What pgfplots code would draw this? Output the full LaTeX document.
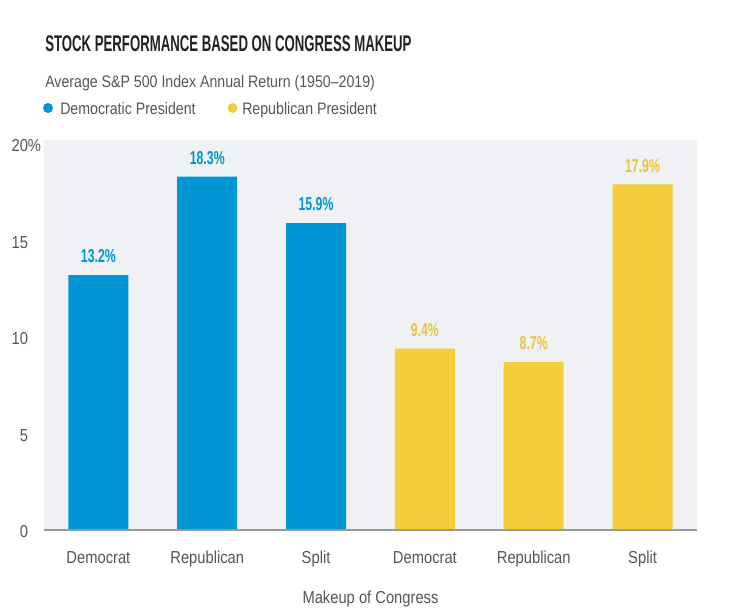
\documentclass[border=0pt]{standalone}
\usepackage{fontspec}
\setmainfont{Liberation Sans}[FakeStretch=0.85]
\newfontfamily\titlefont{Liberation Sans Bold}[FakeStretch=0.582]
\newfontfamily\valfont{Liberation Sans Bold}[FakeStretch=0.66]
\usepackage{pgfplots}
\pgfplotsset{compat=1.18}
\definecolor{dblue}{HTML}{0096D6}
\definecolor{ryellow}{HTML}{F5CD3A}
\definecolor{ylabel}{HTML}{E8C440}
\definecolor{bgc}{HTML}{EFF1F4}
\definecolor{txt}{HTML}{555555}
\definecolor{ttl}{HTML}{222222}
\begin{document}
\begin{tikzpicture}
\path[use as bounding box] (-33pt,-63.75pt) rectangle (522pt,397.5pt);
\begin{axis}[
  at={(0,0)}, anchor=south west,
  scale only axis,
  width=489.75pt, height=292.5pt,
  xmin=-0.5, xmax=5.5, ymin=0, ymax=20.2,
  axis background/.style={fill=bgc},
  axis line style={draw=none},
  axis x line*=bottom,
  axis y line*=left,
  xtick={0,1,2,3,4,5},
  xticklabels={Democrat,Republican,Split,Democrat,Republican,Split},
  ytick={0,5,10,15,20},
  yticklabels={0,5,10,15,20\rlap{\%}},
  major tick length=0pt,
  tick style={draw=none},
  /pgf/number format/assume math mode=true,
  ticklabel style={font=\fontsize{13}{15}\selectfont, text=txt},
  xticklabel style={yshift=-12.5pt},
  yticklabel style={xshift=-8.5pt, yshift=-1.5pt},
  xlabel={Makeup of Congress},
  xlabel style={at={(axis description cs:0.5,0)}, anchor=center, yshift=-52pt, font=\fontsize{13}{15}\selectfont, text=txt},
  ybar, bar width=45pt, bar shift=0pt,
  nodes near coords={\pgfmathprintnumber[fixed,precision=1,fixed zerofill]{\pgfplotspointmeta}\%},
  every node near coord/.append style={font=\valfont\fontsize{14}{16}\selectfont, yshift=5.5pt},
  clip=false,
]
\addplot[fill=dblue, draw=none, every node near coord/.append style={text=dblue}] coordinates {(0,13.2) (1,18.3) (2,15.9)};
\addplot[fill=ryellow, draw=none, every node near coord/.append style={text=ylabel}] coordinates {(3,9.4) (4,8.7) (5,17.9)};
\draw[color=gray!80, line width=1.2pt] (axis cs:-0.5,0) -- (axis cs:5.5,0);
\end{axis}
\node[anchor=base west, inner sep=0, text=ttl, font=\titlefont\fontsize{17}{19}\selectfont] at (0.75pt,358.5pt) {STOCK PERFORMANCE BASED ON CONGRESS MAKEUP};
\node[anchor=base west, inner sep=0, text=txt, font=\fontsize{12.5}{14}\selectfont] at (0.75pt,331.5pt) {Average S\&P 500 Index Annual Return (1950--2019)};
\fill[dblue] (3pt,316.5pt) circle (3.75pt);
\node[anchor=base west, inner sep=0, text=txt, font=\fontsize{12.5}{14}\selectfont] at (12pt,311.25pt) {Democratic President};
\fill[ryellow] (141.4pt,316.5pt) circle (3.75pt);
\node[anchor=base west, inner sep=0, text=txt, font=\fontsize{12.5}{14}\selectfont] at (148.5pt,311.25pt) {Republican President};
\end{tikzpicture}
\end{document}
